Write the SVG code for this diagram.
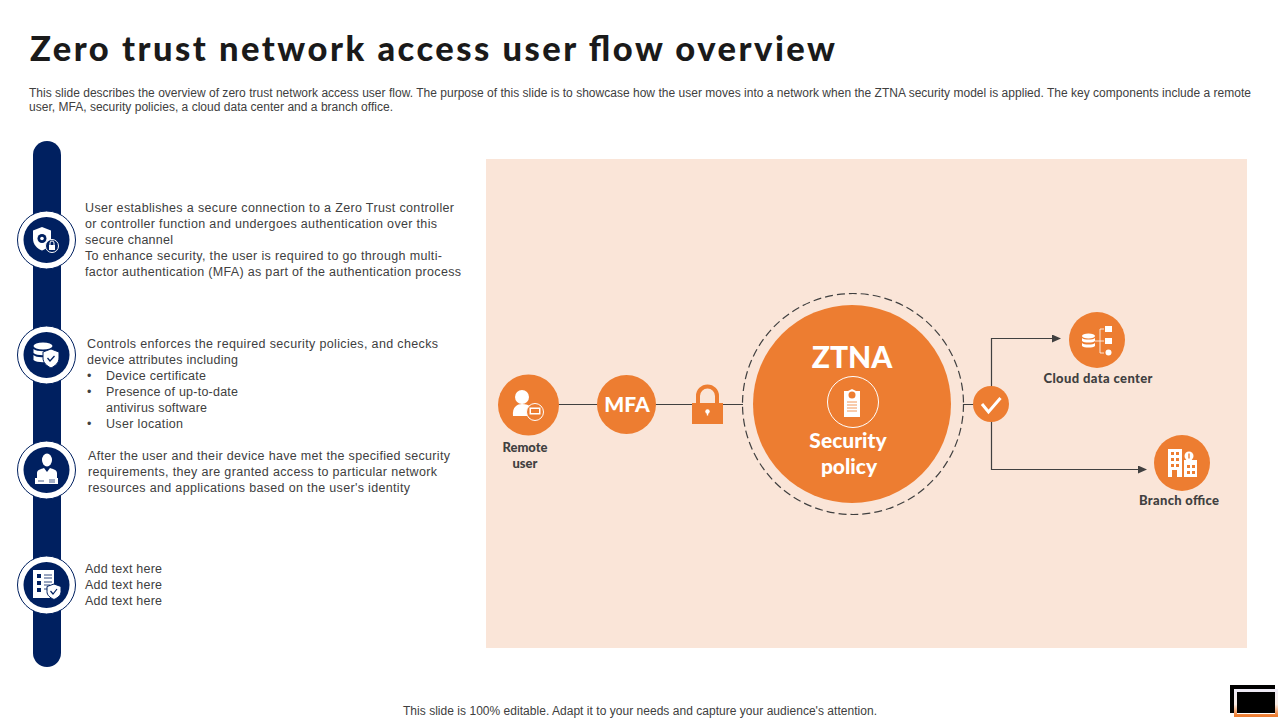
<svg xmlns="http://www.w3.org/2000/svg" width="1280" height="720" viewBox="0 0 1280 720">
<style>
.b{font-family:"Liberation Sans",Arial,sans-serif;font-size:12px;fill:#404040}
.t{font-size:12.500px}
.h{font-family:"Lato","Open Sans",sans-serif;font-weight:900}
.lab{font-size:13px;fill:#404040;text-anchor:middle}
.w{fill:#fff;text-anchor:middle}
.o{fill:#ed7d31}
.n{fill:#002060}
.ring{fill:#fff;stroke:#002060;stroke-width:1}
.wl{stroke:#fff;fill:none}
.c{fill:none;stroke:#404040;stroke-width:1.200}
</style>
<defs>
<marker id="ah" markerWidth="9" markerHeight="8" refX="8" refY="4" orient="auto" markerUnits="userSpaceOnUse"><path d="M0 0L9 4L0 8Z" fill="#404040"/></marker>
<linearGradient id="g" x1="0" y1="0" x2="0" y2="1"><stop offset="0" stop-color="#eeeaf5"/><stop offset=".55" stop-color="#f8ece6"/><stop offset="1" stop-color="#ed7d31"/></linearGradient>
</defs>
<rect width="1280" height="720" fill="#fff"/>
<text class="h" x="30" y="61" font-size="34.500" fill="#1a1a1a" textLength="805" lengthAdjust="spacing">Zero trust network access user flow overview</text>
<g class="b">
<text x="29" y="97" textLength="1222" lengthAdjust="spacing">This slide describes the overview of zero trust network access user flow. The purpose of this slide is to showcase how the user moves into a network when the ZTNA security model is applied. The key components include a remote</text>
<text x="29" y="111" textLength="364" lengthAdjust="spacing">user, MFA, security policies, a cloud data center and a branch office.</text>
</g>
<rect x="486" y="159" width="761" height="489" fill="#fae5d8"/>
<g id="timeline">
<rect class="n" x="33" y="141" width="28" height="526" rx="14"/>
</g>
<g id="step1">
<circle class="ring" cx="46.500" cy="240" r="29"/><circle class="n" cx="46.500" cy="240" r="23"/>
<path d="M42 227l9 3.500v8c0 6-4 10-9 12c-5-2-9-6-9-12v-8z" fill="#fff"/>
<circle cx="42" cy="238.500" r="4.500" fill="#002060"/><circle cx="42" cy="238.500" r="1.800" fill="#fff"/>
<circle cx="52" cy="246" r="6.500" fill="#002060" stroke="#fff"/><rect x="49" y="245" width="6" height="5" fill="#fff"/><path d="M50 245v-2a2 2 0 0 1 4 0v2" class="wl"/>
<g class="b t"><text x="85" y="212" textLength="369" lengthAdjust="spacing">User establishes a secure connection to a Zero Trust controller</text>
<text x="85" y="228" textLength="352" lengthAdjust="spacing">or controller function and undergoes authentication over this</text>
<text x="85" y="244" textLength="88" lengthAdjust="spacing">secure channel</text>
<text x="85" y="260" textLength="357" lengthAdjust="spacing">To enhance security, the user is required to go through multi-</text>
<text x="85" y="276" textLength="376" lengthAdjust="spacing">factor authentication (MFA) as part of the authentication process</text></g>
</g>
<g id="step2">
<circle class="ring" cx="46.500" cy="355" r="29"/><circle class="n" cx="46.500" cy="355" r="23"/>
<ellipse cx="43" cy="346" rx="9.500" ry="3.500" fill="#fff"/><path d="M33.500 349c3 3 16 3 19 0v4c-3 3-16 3-19 0zM33.500 355c3 3 12 3 19 0v5c-3 3-16 3-19 0z" fill="#fff"/>
<path d="M51 349l8 3v6c0 5-4 8-8 10c-4-2-8-5-8-10v-6z" fill="#fff" stroke="#002060"/>
<path d="M47.500 358l2.500 3l4.500-5" fill="none" stroke="#002060" stroke-width="1.300"/>
<g class="b t"><text x="87" y="348" textLength="351" lengthAdjust="spacing">Controls enforces the required security policies, and checks</text>
<text x="87" y="364" textLength="151" lengthAdjust="spacing">device attributes including</text>
<text x="87" y="380">•</text><text x="106" y="380" textLength="100" lengthAdjust="spacing">Device certificate</text>
<text x="87" y="396">•</text><text x="106" y="396" textLength="132" lengthAdjust="spacing">Presence of up-to-date</text>
<text x="106" y="412" textLength="101" lengthAdjust="spacing">antivirus software</text>
<text x="87" y="428">•</text><text x="106" y="428" textLength="77" lengthAdjust="spacing">User location</text></g>
</g>
<g id="step3">
<circle class="ring" cx="46.500" cy="470" r="29"/><circle class="n" cx="46.500" cy="470" r="23"/>
<ellipse cx="47" cy="460" rx="5" ry="6.500" fill="#fff"/>
<path d="M37 478v-5c0-3 4-4 7-5l3 4l3-4c3 1 7 2 7 5v5z" fill="#fff"/>
<rect x="35" y="478" width="23" height="6" fill="#fff"/>
<path d="M38 481h6M49 480h6M49 482h6" stroke="#002060" stroke-width=".7"/>
<g class="b t"><text x="88" y="460" textLength="362" lengthAdjust="spacing">After the user and their device have met the specified security</text>
<text x="88" y="476" textLength="349" lengthAdjust="spacing">requirements, they are granted access to particular network</text>
<text x="88" y="492" textLength="322" lengthAdjust="spacing">resources and applications based on the user's identity</text></g>
</g>
<g id="step4">
<circle class="ring" cx="46.500" cy="585" r="29"/><circle class="n" cx="46.500" cy="585" r="23"/>
<rect x="33" y="570" width="21" height="28" fill="#fff"/>
<path d="M37 574h4v4h-4zM37 581h4v4h-4zM37 588h4v4h-4z" fill="#002060"/>
<path d="M44 575h8M44 578h8M44 582h8M44 585h6M44 589h4" stroke="#002060" stroke-width=".8"/>
<path d="M54 584l7 2.500v5c0 4-3 6-7 8c-4-2-7-4-7-8v-5z" fill="#fff" stroke="#002060"/>
<path d="M50.500 591l2.500 3l4-5" fill="none" stroke="#002060" stroke-width="1.200"/>
<g class="b t"><text x="85" y="573" textLength="77" lengthAdjust="spacing">Add text here</text>
<text x="85" y="589" textLength="77" lengthAdjust="spacing">Add text here</text>
<text x="85" y="605" textLength="77" lengthAdjust="spacing">Add text here</text></g>
</g>
<g id="connectors">
<path class="c" d="M558 404.500H598M655 404.500H693M722 404.500H743M964 404.500H974"/>
<path class="c" d="M991.500 387V338.500H1060" marker-end="url(#ah)"/>
<path class="c" d="M991.500 421V469.500H1146" marker-end="url(#ah)"/>
</g>
<g id="remote-user">
<circle class="o" cx="528.500" cy="405" r="30.500"/>
<circle cx="522" cy="397" r="7" fill="#fff"/>
<path d="M513 416c-1-9 4-12 9-12c4 0 7 1 9 3v9z" fill="#fff"/>
<circle cx="535" cy="412" r="8.500" fill="#ed7d31" stroke="#fff"/>
<rect x="529.500" y="407.500" width="11" height="7" fill="#fff"/><rect x="531" y="409" width="8" height="4" fill="#ed7d31"/>
<text class="h lab" x="525" y="452">Remote</text><text class="h lab" x="525" y="468">user</text>
</g>
<g id="mfa">
<circle class="o" cx="626.500" cy="404.500" r="29.500"/>
<text class="h w" x="627" y="412" font-size="21">MFA</text>
</g>
<g id="lock">
<path d="M698 407V396a9.500 9.500 0 0 1 19 0V407" fill="none" stroke="#ed7d31" stroke-width="4"/>
<rect class="o" x="692" y="403" width="31" height="21"/>
<circle cx="707.500" cy="411.500" r="2.200" fill="#fff"/><path d="M706.800 412h1.400v3.500h-1.400z" fill="#fff"/>
</g>
<g id="ztna">
<circle cx="853" cy="404" r="110.500" fill="none" stroke="#404040" stroke-width="1.200" stroke-dasharray="8 4"/>
<circle class="o" cx="852" cy="404" r="99"/>
<text class="h w" x="852" y="368" font-size="30">ZTNA</text>
<circle cx="853" cy="402" r="25.500" fill="none" stroke="#fff" stroke-width="1"/>
<path d="M844 391h4l4-2l4 2h4v26h-16z" fill="#fff"/>
<circle cx="852" cy="395" r="3.500" fill="#ed7d31"/>
<path d="M847 402h10M847 405h10M847 408h10M847 411h10" stroke="#ed7d31" stroke-width=".8"/>
<text class="h w" x="848" y="448" font-size="21">Security</text>
<text class="h w" x="849" y="474" font-size="21">policy</text>
</g>
<g id="check">
<circle class="o" cx="991" cy="404" r="18"/>
<path d="M982 404l6.500 8l12-14" fill="none" stroke="#fff" stroke-width="3"/>
</g>
<g id="cloud-data-center">
<circle class="o" cx="1097" cy="340" r="28"/>
<ellipse cx="1088.500" cy="336" rx="6.500" ry="2.500" fill="#fff"/>
<path d="M1082 338c2 2 11 2 13 0v3c-2 2-11 2-13 0zM1082 343c2 2 11 2 13 0v3c-2 2-11 2-13 0z" fill="#fff"/>
<path d="M1095 341h5M1100 329v24M1100 329h4M1100 341h4M1100 353h4" stroke="#fff" stroke-width=".8" fill="none"/>
<rect x="1105" y="326" width="7" height="6" fill="#fff"/><rect x="1105" y="338" width="7" height="6" fill="#fff"/><circle cx="1108.500" cy="352.500" r="3" fill="#fff"/>
<text class="h lab" x="1098" y="383" textLength="109" lengthAdjust="spacing">Cloud data center</text>
</g>
<g id="branch-office">
<circle class="o" cx="1182" cy="463" r="28"/>
<path d="M1168 449h14v28h-14zM1184 460h13v17h-13z" fill="#fff"/>
<path d="M1171 452h3v3h-3zM1176 452h3v3h-3zM1171 458h3v3h-3zM1176 458h3v3h-3zM1171 464h3v3h-3zM1176 464h3v3h-3zM1172 470h5v7h-5zM1187 465h3v3h-3zM1192 465h3v3h-3zM1187 471h3v3h-3zM1192 471h3v3h-3z" fill="#ed7d31"/>
<circle cx="1189" cy="456" r="4.500" fill="#fff"/><path d="M1188.300 453.500h1.400v5h-1.400z" fill="#ed7d31"/>
<text class="h lab" x="1179" y="505" textLength="80" lengthAdjust="spacing">Branch office</text>
</g>
<text class="b" x="640" y="715" text-anchor="middle" textLength="474" lengthAdjust="spacing">This slide is 100% editable. Adapt it to your needs and capture your audience's attention.</text>
<g id="corner">
<rect x="1230" y="685" width="45" height="28" fill="#000"/>
<rect x="1235.500" y="690.500" width="41" height="25" fill="none" stroke="url(#g)" stroke-width="3"/>
</g>
</svg>
